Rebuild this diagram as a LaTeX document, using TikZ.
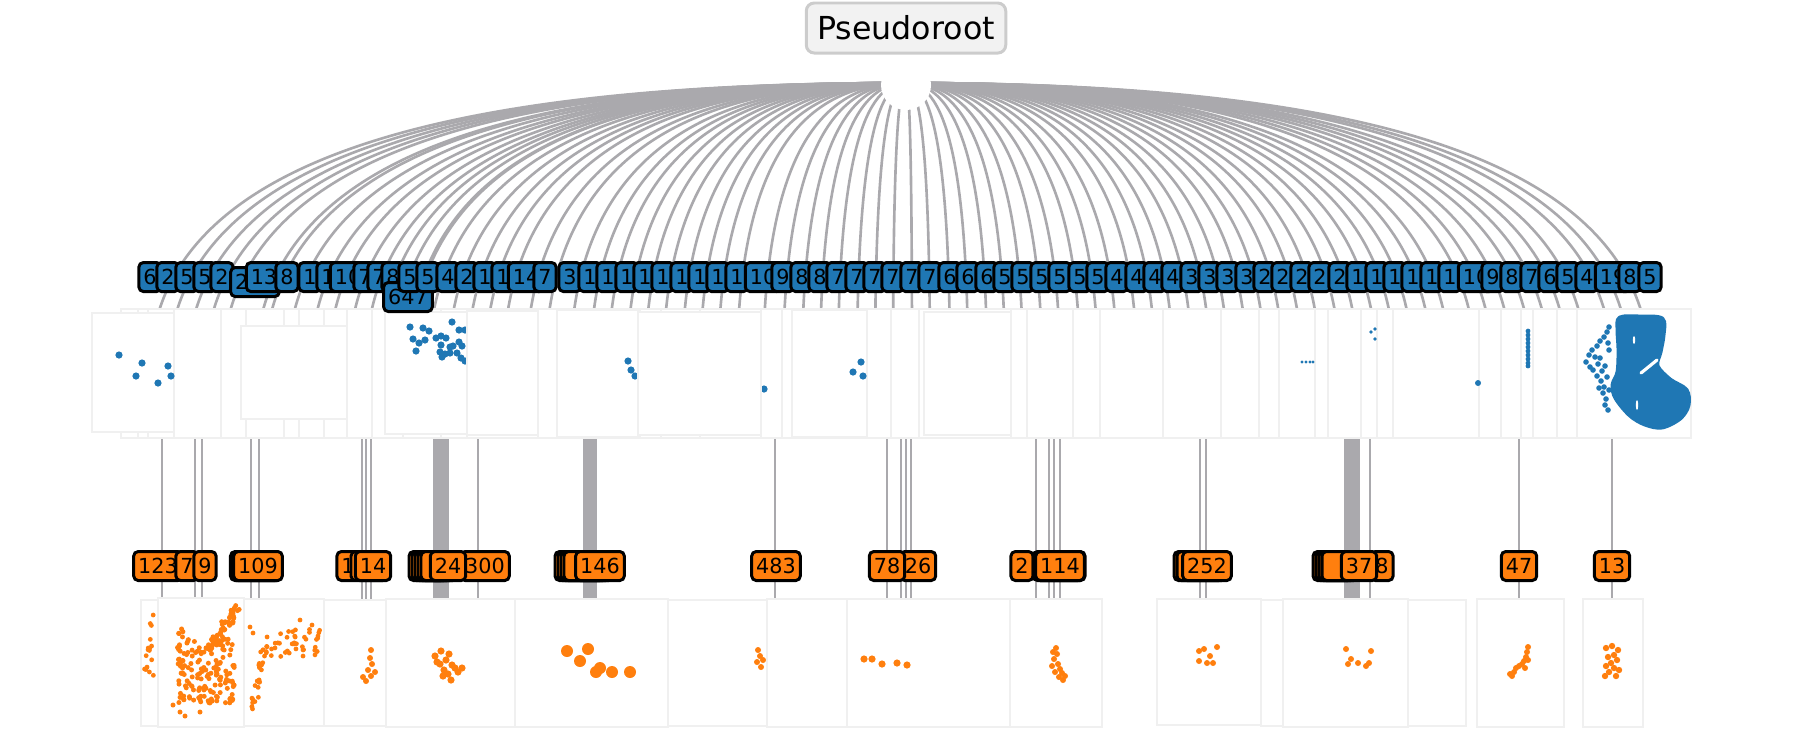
\documentclass[tikz,border=0pt]{standalone}
\usepackage{fontspec}
\setmainfont{DejaVu Sans}
\definecolor{tabblue}{HTML}{1F77B4}
\definecolor{taborange}{HTML}{FF7F0E}
\definecolor{edgegrey}{RGB}{170,169,173}
\definecolor{panelgrey}{RGB}{240,240,240}
\definecolor{rootfill}{RGB}{242,242,242}
\definecolor{rootdraw}{RGB}{204,204,204}
\begin{document}
\begin{tikzpicture}[x=0.01cm,y=-0.01cm,
  edge/.style={draw=edgegrey,line width=0.75pt},
  panel/.style={draw=panelgrey,fill=white,line width=0.4pt},
  lab/.style={draw=black,line width=0.85pt,rounded corners=0.045cm,minimum height=0.29cm,minimum width=0.2cm,inner xsep=0.045cm,inner ysep=0pt,font=\fontsize{5.9}{7}\selectfont,text=black},
  bl/.style={lab,fill=tabblue},
  ol/.style={lab,fill=taborange}]
\useasboundingbox (0,0) rectangle (1807,732);
% hub and arcs
\coordinate (hub) at (906,83);
\foreach \x/\t [count=\i] in {150/6,168/2,187/5,205/5,222/2,255/2,264/13,287/8,310/1,328/1,348/10,365/7,379/7,393/8,408/647,410/5,428/5,448/4,467/2,485/1,503/1,526/14,545/7,570/3,590/1,608/1,627/1,645/1,663/1,682/1,700/1,718/1,737/1,763/10,783/9,802/8,820/8,838/7,857/7,875/7,893/7,912/7,930/7,950/6,968/6,987/6,1005/5,1023/5,1042/5,1060/5,1080/5,1098/5,1117/4,1137/4,1155/4,1173/4,1192/3,1210/3,1228/3,1247/3,1265/2,1283/2,1302/2,1320/2,1340/2,1358/1,1377/1,1395/1,1413/1,1432/1,1450/1,1476/10,1493/9,1512/8,1532/7,1550/6,1568/5,1587/4,1613/19,1630/8,1650/5}{
  \coordinate (b\i) at (\x,372);
  \pgfmathsetmacro\cx{906+0.6*(\x-906)}
  \draw[edge] (hub) .. controls (\cx,83) and (\x,155) .. (b\i);
}
\node[circle,fill=white,minimum size=0.5cm,inner sep=0pt] (hubmark) at (906,85) {};
\node[draw=rootdraw,fill=rootfill,line width=0.85pt,rounded corners=0.08cm,minimum height=0.5cm,inner xsep=0.11cm,font=\fontsize{9}{11}\selectfont] (root) at (906,28) {Pseudoroot};
% vertical connectors to the lower row
\foreach \x [count=\i] in {162,195,202,251,259,362,366,371,434,436,438,440,442,444,446,448,478,584,586,588,590,592,594,596,775,887,901,906,911,1036,1049,1054,1060,1200,1206,1345,1347,1349,1351,1353,1355,1357,1359,1370,1519,1612}{
  \coordinate (vt\i) at (\x,380);
  \coordinate (vb\i) at (\x,660);
  \draw[edge] (vt\i) -- (vb\i);
}
% ---------- blue panels ----------
\foreach \l in {121,138,148,174,221,246,284,299,324,347,372,403,441,467,538,557,640,661,700,761,782,792,867,891,919,1011,1027,1073,1100,1163,1221,1259,1279,1315,1328,1361,1377,1393,1479,1501,1521,1533,1557,1577}
  \draw[panel] (\l,309) rectangle ++(100,129);
\draw[panel] (92,313) rectangle (174,432);
\foreach \p in {(119,355),(142,363),(136,376),(168,366),(158,383),(171,376)} \fill[tabblue] \p circle (3.6);
\draw[panel] (241,326) rectangle (347,419);
\draw[panel] (385,312) rectangle (467,434);
\foreach \p in {(410,327),(423,328),(429,331),(452,322),(459,330),(465,330),(413,339),(419,343),(425,340),(436,338),(441,336),(446,338),(459,342),(462,346),(416,351),(441,345),(450,347),(453,346),(440,352),(445,354),(450,353),(457,353),(442,357),(461,358),(465,361)} \fill[tabblue] \p circle (3.6);
\draw[panel] (467,311) rectangle (538,435);
\draw[panel] (557,310) rectangle (640,437);
\foreach \p in {(628,361),(631,370),(635,376)} \fill[tabblue] \p circle (3.6);
\fill[tabblue] (764,389) circle (3.6);
\draw[panel] (638,312) rectangle (761,435);
\draw[panel] (792,310) rectangle (867,437);
\foreach \p in {(853,372),(861,362),(863,376)} \fill[tabblue] \p circle (3.6);
\draw[panel] (924,312) rectangle (1011,435);
\foreach \p in {(1302,362),(1306,362),(1310,362),(1313,362)} \fill[tabblue] \p circle (1.6);
\foreach \p in {(1371,332),(1375,329),(1375,339)} \fill[tabblue] \p circle (1.8);
\fill[tabblue] (1478,383) circle (3);
\foreach \y in {331,335,339,343,347,351,355,359,363,366} \fill[tabblue] (1528,\y) circle (2.4);
\draw[panel] (1577,309) rectangle (1691,438);
\foreach \p in {(1586,362),(1589,355),(1592,350),(1597,346),(1600,341),(1604,337),(1607,332),(1609,327),(1593,370),(1597,376),(1601,381),(1604,387),(1603,393),(1606,399),(1605,405),(1608,410),(1598,364),(1590,367),(1607,377),(1609,390),(1595,357),(1602,371),(1609,350),(1600,358),(1605,366),(1599,388),(1608,343)} \fill[tabblue] \p circle (2.8);
\fill[tabblue,draw=tabblue,line width=1.4pt,line join=round] plot[smooth cycle,tension=0.55] coordinates {(1620,318) (1640,317) (1662,319) (1663,335) (1660,352) (1657,366) (1670,380) (1686,390) (1688,405) (1680,418) (1662,427) (1645,424) (1630,415) (1616,398) (1613,385) (1618,372) (1619,350) (1618,330)};
\fill[white] (1634,340) ellipse (1.2 and 4);
\fill[white] (1637,405) ellipse (1.2 and 5);
\draw[white,line width=0.9pt,line cap=round] (1657,360) -- (1641,373);
% ---------- orange panels ----------
\pgfmathsetseed{7}
\draw[panel] (141,600) rectangle (213,726);
\foreach \k in {1,...,16}{\pgfmathsetmacro\px{149+6*rand}\pgfmathsetmacro\py{640+36*rand}\fill[taborange] (\px,\py) circle (2.4);}
\draw[panel] (158,598) rectangle (244,727);
\foreach \k in {1,...,150}{\pgfmathsetmacro\px{206+29*rand}\pgfmathsetmacro\py{671+32*rand}\fill[taborange] (\px,\py) circle (2.5);}
\foreach \k in {1,...,45}{\pgfmathsetmacro\tt{rnd}\pgfmathsetmacro\px{212+26*\tt+5*rand}\pgfmathsetmacro\py{646-38*\tt+5*rand}\fill[taborange] (\px,\py) circle (2.5);}
\foreach \k in {1,...,14}{\pgfmathsetmacro\px{181+4*rand}\pgfmathsetmacro\py{648+20*rand}\fill[taborange] (\px,\py) circle (2.5);}
\foreach \p in {(173,705),(180,712),(185,716),(200,712)} \fill[taborange] \p circle (2.5);
\draw[panel] (244,599) rectangle (324,726);
\foreach \k in {1,...,20}{\pgfmathsetmacro\tt{rnd}\pgfmathsetmacro\px{253+10*\tt+3*rand}\pgfmathsetmacro\py{710-58*\tt+3*rand}\fill[taborange] (\px,\py) circle (2.4);}
\foreach \k in {1,...,45}{\pgfmathsetmacro\px{290+30*rand}\pgfmathsetmacro\py{643+14*rand}\fill[taborange] (\px,\py) circle (2.4);}
\foreach \p in {(250,627),(253,633),(312,625),(318,636),(300,620)} \fill[taborange] \p circle (2.4);
\draw[panel] (324,600) rectangle (386,726);
\foreach \p in {(371,650),(370,658),(372,664),(368,670),(371,676),(375,672),(363,677),(366,681)} \fill[taborange] \p circle (3);
\draw[panel] (386,599) rectangle (515,727);
\foreach \p in {(435,656),(441,651),(446,660),(449,654),(452,665),(440,664),(444,670),(437,662),(455,668),(448,674),(462,668),(458,672),(451,680),(443,676)} \fill[taborange] \p circle (3.6);
\draw[panel] (543,600) rectangle (647,726);
\draw[panel] (515,599) rectangle (668,727);
\foreach \p in {(567,651),(588,649),(580,661),(596,672),(600,668),(612,672),(630,672)} \fill[taborange] \p circle (6);
\draw[panel] (668,600) rectangle (767,726);
\foreach \p in {(758,650),(760,656),(757,662),(761,667),(763,660)} \fill[taborange] \p circle (3);
\draw[panel] (767,599) rectangle (922,727);
\draw[panel] (847,599) rectangle (1010,727);
\foreach \p in {(864,659),(872,659),(882,664),(897,663),(907,665)} \fill[taborange] \p circle (3.6);
\draw[panel] (1010,599) rectangle (1102,727);
\foreach \p in {(1056,648),(1057,654),(1054,659),(1058,664),(1060,669),(1062,673),(1065,676),(1059,677),(1055,672),(1052,666),(1063,680),(1053,652)} \fill[taborange] \p circle (3);
\draw[panel] (1157,599) rectangle (1261,725);
\foreach \p in {(1199,651),(1207,663),(1213,663),(1204,649),(1217,647),(1199,661),(1210,656)} \fill[taborange] \p circle (3);
\draw[panel] (1261,600) rectangle (1314,726);
\draw[panel] (1283,599) rectangle (1408,727);
\foreach \p in {(1346,649),(1351,659),(1358,663),(1366,666),(1371,651),(1369,663),(1348,664)} \fill[taborange] \p circle (3);
\draw[panel] (1408,600) rectangle (1466,726);
\draw[panel] (1477,599) rectangle (1564,727);
\foreach \p in {(1528,647),(1527,652),(1526,657),(1524,661),(1522,664),(1519,666),(1516,668),(1514,672),(1512,676),(1510,674),(1528,660),(1525,668)} \fill[taborange] \p circle (3);
\draw[panel] (1583,599) rectangle (1643,727);
\foreach \p in {(1606,648),(1612,646),(1618,650),(1614,655),(1608,657),(1617,660),(1611,663),(1606,666),(1614,668),(1619,670),(1609,672),(1616,676),(1605,676)} \fill[taborange] \p circle (3.2);
% ---------- blue labels ----------
\foreach \x/\t [count=\i] in {150/6,168/2,187/5,205/5,222/2}
  \node[bl] (la\i) at (\x,277) {\t};
\node[bl] (lb1) at (255,282) {2\phantom{00}};
\foreach \x/\t [count=\i] in {264/13,287/8,310/1,328/1,348/10,365/7,379/7,393/8}
  \node[bl] (lc\i) at (\x,277) {\t};
\node[bl] (lb2) at (408,297) {647};
\foreach \x/\t [count=\i] in {410/5,428/5,448/4,467/2,485/1,503/1,526/14,545/7,570/3,590/1,608/1,627/1,645/1,663/1,682/1,700/1,718/1,737/1,763/10,783/9,802/8,820/8,838/7,857/7,875/7,893/7,912/7,930/7,950/6,968/6,987/6,1005/5,1023/5,1042/5,1060/5,1080/5,1098/5,1117/4,1137/4,1155/4,1173/4,1192/3,1210/3,1228/3,1247/3,1265/2,1283/2,1302/2,1320/2,1340/2,1358/1,1377/1,1395/1,1413/1,1432/1,1450/1,1476/10,1493/9,1512/8,1532/7,1550/6,1568/5,1587/4,1613/19,1630/8,1650/5}
  \node[bl] (ld\i) at (\x,277) {\t};
% ---------- orange labels ----------
\node[ol] (o1) at (158,566) {123};
\node[ol] (o2) at (187,566) {7};
\node[ol] (o3) at (205,566) {9};
\node[ol,minimum width=0.49cm] (o4a) at (255,566) {};
\node[ol,minimum width=0.49cm] (o4b) at (256.5,566) {};
\node[ol] (o4) at (258,566) {109};
\node[ol] (o5a) at (348,566) {1};
\node[ol,minimum width=0.36cm] (o5b) at (369,566) {};
\node[ol] (o5) at (373,566) {14};
\node[ol] (o6) at (485,566) {300};
\foreach \c [count=\i] in {427,430,433,436,439} \node[ol,minimum width=0.36cm] (o7\i) at (\c,566) {};
\node[ol] (o7) at (448,566) {24};
\foreach \c [count=\i] in {579.5,582.5,585.5,588.5} \node[ol,minimum width=0.49cm] (o8\i) at (\c,566) {};
\node[ol] (o8) at (600,566) {146};
\node[ol] (o9) at (776,566) {483};
\node[ol] (o10) at (918,566) {26};
\node[ol] (o11) at (887,566) {78};
\node[ol] (o12a) at (1022,566) {2};
\foreach \c [count=\i] in {1057.5,1060.5} \node[ol,minimum width=0.49cm] (o12\i) at (\c,566) {};
\node[ol] (o12) at (1060,566) {114};
\foreach \c [count=\i] in {1198.5,1201.5} \node[ol,minimum width=0.49cm] (o13\i) at (\c,566) {};
\node[ol] (o13) at (1207,566) {252};
\node[ol] (o14a) at (1382,566) {8};
\foreach \c [count=\i] in {1331,1334,1337,1340} \node[ol,minimum width=0.36cm] (o14\i) at (\c,566) {};
\node[ol] (o14) at (1359,566) {37};
\node[ol] (o15) at (1519,566) {47};
\node[ol] (o16) at (1612,566) {13};
\end{tikzpicture}
\end{document}
